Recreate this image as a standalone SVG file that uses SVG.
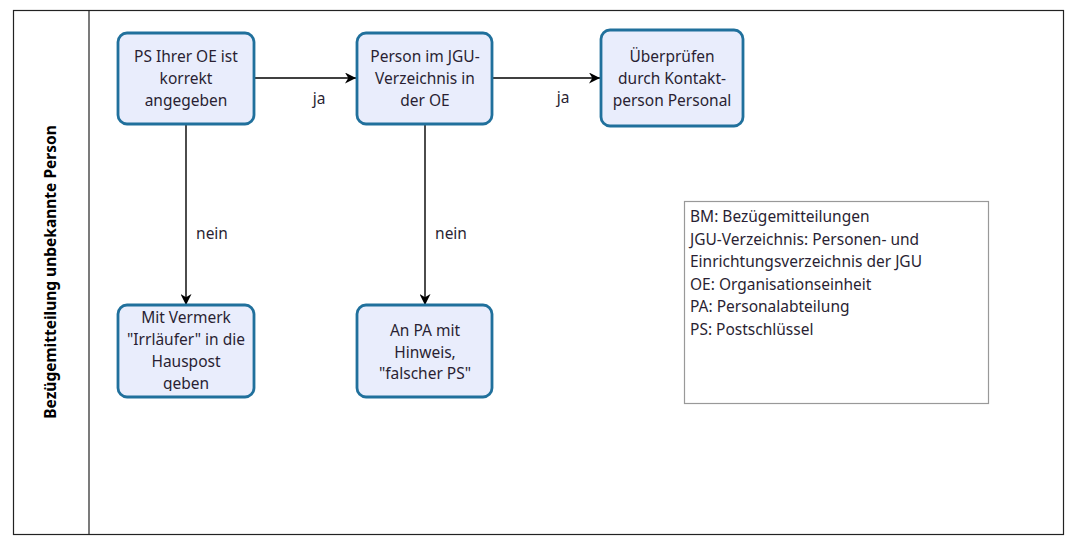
<svg xmlns="http://www.w3.org/2000/svg" width="1075" height="546" viewBox="0 0 1075 546">
<defs>
<style>
.node rect{fill:#e9edfc;stroke:#20709c;stroke-width:2.8}
.nt{font-family:"Noto Sans","Open Sans",sans-serif;font-size:15.5px;fill:#2a1f33;text-anchor:middle}
.lbl{font-family:"Noto Sans","Open Sans",sans-serif;font-size:15.5px;fill:#2a1f33;text-anchor:middle}
.leg{font-family:"Noto Sans","Open Sans",sans-serif;font-size:15.5px;fill:#2a1f33}
.conn line{stroke:#000;stroke-width:1.4;fill:none}
</style>
<marker id="arr" viewBox="0 0 10 10" refX="10" refY="5" markerWidth="11" markerHeight="11" markerUnits="userSpaceOnUse" orient="auto">
<path d="M0,0 L10,5 L0,10 L3,5 Z" fill="#000"/>
</marker>
<clipPath id="c4"><rect x="117" y="305" width="137" height="86"/></clipPath>
</defs>
<rect width="1075" height="546" fill="#fff"/>
<g id="lane">
<rect x="13.5" y="10.5" width="1050" height="524" fill="none" stroke="#222" stroke-width="1.2"/>
<line x1="89" y1="10.5" x2="89" y2="534.5" stroke="#222" stroke-width="1.2"/>
<text transform="translate(56,272) rotate(-90)" font-family="'Noto Sans','Open Sans',sans-serif" font-size="15.5" font-weight="bold" text-anchor="middle" fill="#000">Bezügemitteilung unbekannte Person</text>
</g>
<g class="conn" id="connectors">
<line x1="254" y1="78" x2="356" y2="78" marker-end="url(#arr)"/>
<line x1="492" y1="78" x2="600" y2="78" marker-end="url(#arr)"/>
<line x1="186" y1="124" x2="186" y2="305" marker-end="url(#arr)"/>
<line x1="425" y1="124" x2="425" y2="305" marker-end="url(#arr)"/>
<text class="lbl" x="319" y="104">ja</text>
<text class="lbl" x="563" y="103">ja</text>
<text class="lbl" x="212" y="239">nein</text>
<text class="lbl" x="451" y="239">nein</text>
</g>
<g id="n1" class="node">
<rect x="118" y="33" width="136" height="91" rx="9"/>
<text class="nt" x="186" y="62">PS Ihrer OE ist</text>
<text class="nt" x="186" y="84">korrekt</text>
<text class="nt" x="186" y="106">angegeben</text>
</g>
<g id="n2" class="node">
<rect x="357" y="33" width="135" height="91" rx="9"/>
<text class="nt" x="425" y="62">Person im JGU-</text>
<text class="nt" x="425" y="84">Verzeichnis in</text>
<text class="nt" x="425" y="106">der OE</text>
</g>
<g id="n3" class="node">
<rect x="601" y="30" width="142" height="96" rx="9"/>
<text class="nt" x="672" y="62">Überprüfen</text>
<text class="nt" x="672" y="84">durch Kontakt-</text>
<text class="nt" x="672" y="106">person Personal</text>
</g>
<g id="n4" class="node">
<rect x="118" y="305" width="136" height="92" rx="9"/>
<g clip-path="url(#c4)">
<text class="nt" x="186" y="323">Mit Vermerk</text>
<text class="nt" x="186" y="345">"Irrläufer" in die</text>
<text class="nt" x="186" y="367">Hauspost</text>
<text class="nt" x="186" y="389">geben</text>
</g>
</g>
<g id="n5" class="node">
<rect x="357" y="305" width="135" height="92" rx="9"/>
<text class="nt" x="425" y="336">An PA mit</text>
<text class="nt" x="425" y="358">Hinweis,</text>
<text class="nt" x="425" y="379">"falscher PS"</text>
</g>
<g id="legend">
<rect x="684.5" y="201.5" width="304" height="202" fill="#fff" stroke="#999" stroke-width="1.2"/>
<text class="leg" x="690" y="222">BM: Bezügemitteilungen</text>
<text class="leg" x="690" y="245">JGU-Verzeichnis: Personen- und</text>
<text class="leg" x="690" y="267">Einrichtungsverzeichnis der JGU</text>
<text class="leg" x="690" y="290">OE: Organisationseinheit</text>
<text class="leg" x="690" y="312">PA: Personalabteilung</text>
<text class="leg" x="690" y="335">PS: Postschlüssel</text>
</g>
</svg>
